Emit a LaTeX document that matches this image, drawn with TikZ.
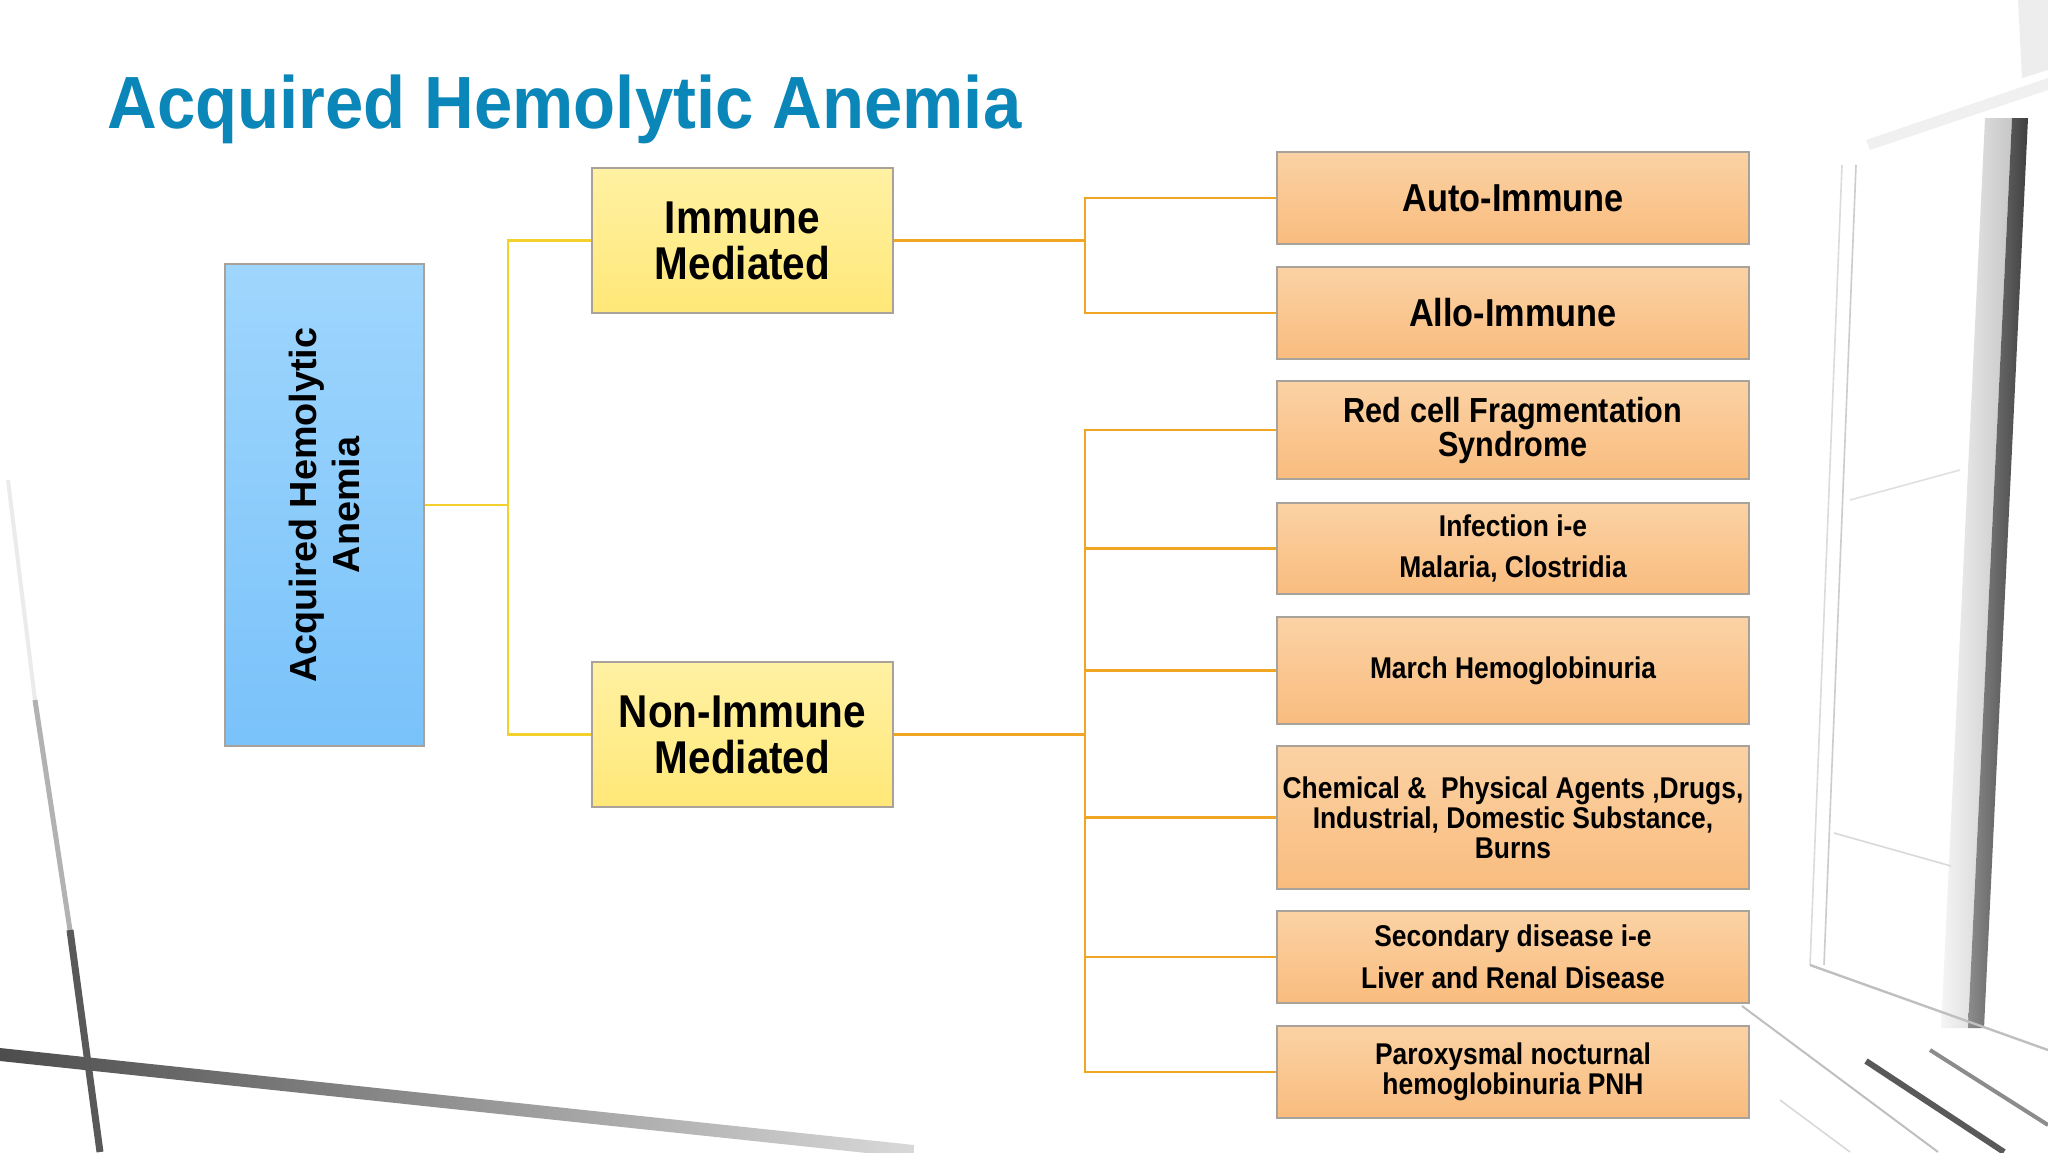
\documentclass[tikz,border=0pt]{standalone}
\usepackage{fontspec}
\setmainfont{Liberation Sans}
\newfontfamily\narrowfont{Liberation Sans}[FakeStretch=0.88]
\newfontfamily\titlefont{Liberation Sans}[FakeStretch=0.93]
\definecolor{titleblue}{HTML}{0A86B9}
\definecolor{blueTop}{HTML}{9FD6FD}
\definecolor{blueBot}{HTML}{79C2FA}
\definecolor{yelTop}{HTML}{FFF1A3}
\definecolor{yelBot}{HTML}{FFE878}
\definecolor{orTop}{HTML}{FBD2A4}
\definecolor{orBot}{HTML}{F9BC7E}
\definecolor{lineY}{HTML}{F2D12C}
\definecolor{lineO}{HTML}{F0A623}
\definecolor{boxEdge}{HTML}{A8A29A}
\tikzset{
  basebox/.style={draw=boxEdge, line width=0.8pt, inner sep=2pt, align=center},
  obox/.style={basebox, top color=orTop, bottom color=orBot, minimum width=236pt},
  ybox/.style={basebox, top color=yelTop, bottom color=yelBot, minimum width=150.5pt, minimum height=72.5pt,
    font=\narrowfont\bfseries\fontsize{23}{23}\selectfont},
  bbox/.style={basebox, top color=blueTop, bottom color=blueBot, minimum width=241pt, minimum height=99.5pt},
  big/.style={font=\narrowfont\bfseries\fontsize{19.5}{23}\selectfont},
  mid/.style={font=\narrowfont\bfseries\fontsize{17.4}{17}\selectfont},
  small/.style={font=\narrowfont\bfseries\fontsize{15}{15}\selectfont},
  smallwide/.style={font=\narrowfont\bfseries\fontsize{15}{20.75}\selectfont},
  linkY/.style={draw=lineY, line width=1.1pt},
  linkO/.style={draw=lineO, line width=1.2pt},
}
\begin{document}
\begin{tikzpicture}[x=0.5pt,y=-0.5pt]
\useasboundingbox (0,0) rectangle (2048,1152);
\fill[white] (0,0) rectangle (2048,1152);

% ---- background decoration (window frames) ----
\draw[line width=2pt, black!8] (8,480) -- (35,700);
\draw[line width=2.5pt, black!30] (35,700) -- (70,930);
\draw[line width=3.5pt, black!65] (70,930) -- (100,1152);
\shade[left color=black!70, right color=black!15] (0,1048) -- (914,1145) -- (914,1158) -- (0,1061) -- cycle;

\shade[left color=black!4, right color=black!22] (1985,118) -- (2012,118) -- (1968,1028) -- (1941,1028) -- cycle;
\shade[left color=black!45, right color=black!75] (2012,118) -- (2028,118) -- (1984,1028) -- (1968,1028) -- cycle;
\fill[black!7] (2018,0) -- (2048,0) -- (2048,70) -- (2022,78) -- cycle;
\fill[black!6] (1866,140) -- (2048,78) -- (2048,90) -- (1870,150) -- cycle;
\draw[line width=0.8pt, black!14] (1842,165) -- (1810,965);
\draw[line width=0.8pt, black!20] (1856,165) -- (1824,965);
\draw[line width=0.8pt, black!15] (1834,833) -- (1951,866);
\draw[line width=0.8pt, black!12] (1850,500) -- (1960,470);
\draw[line width=1.2pt, black!25] (1810,965) -- (2048,1050);
\draw[line width=1pt, black!25] (1742,1006) -- (1938,1152);
\draw[line width=3pt, black!65] (1866,1061) -- (2004,1152);
\draw[line width=2pt, black!45] (1930,1050) -- (2048,1125);
\draw[line width=0.8pt, black!15] (1780,1100) -- (1850,1152);

% ---- title ----
\node[anchor=base west, inner sep=0, text=titleblue, font=\titlefont\bfseries\fontsize{37}{40}\selectfont]
  (title) at (107,128) {Acquired Hemolytic Anemia};

% ---- boxes ----
\node[bbox, rotate=90, font=\bfseries\fontsize{18.9}{21.5}\selectfont] (root) at (324.5,505)
  {Acquired Hemolytic\\Anemia};
\node[ybox] (imm) at (742.5,240.5) {Immune\\Mediated};
\node[ybox] (non) at (742.5,734.5) {Non-Immune\\Mediated};

\node[obox, big, minimum height=46pt] (auto) at (1513,198) {Auto-Immune};
\node[obox, big, minimum height=46pt] (allo) at (1513,313) {Allo-Immune};
\node[obox, mid, minimum height=49pt] (red) at (1513,430) {Red cell Fragmentation\\Syndrome};
\node[obox, smallwide, minimum height=45.5pt] (inf) at (1513,548.5) {Infection i-e\\Malaria, Clostridia};
\node[obox, small, minimum height=53.5pt] (march) at (1513,670.5) {March Hemoglobinuria};
\node[obox, small, minimum height=71.5pt, inner sep=0pt] (chem) at (1513,817.5)
  {Chemical \&\ \ Physical Agents ,Drugs,\\Industrial, Domestic Substance,\\Burns};
\node[obox, smallwide, minimum height=46pt] (sec) at (1513,957) {Secondary disease i-e\\Liver and Renal Disease};
\node[obox, small, minimum height=46pt] (pnh) at (1513,1072) {Paroxysmal nocturnal\\hemoglobinuria PNH};

% ---- connectors ----
\coordinate (jL) at (508,505);
\coordinate (jI) at (1085,240.5);
\coordinate (jN) at (1085,734.5);
\draw[linkY] (root.south) -- (jL);
\draw[linkY] (jL) |- (imm.west);
\draw[linkY] (jL) |- (non.west);
\draw[linkO] (imm.east) -- (jI);
\draw[linkO] (jI) |- (auto.west);
\draw[linkO] (jI) |- (allo.west);
\draw[linkO] (non.east) -- (jN);
\draw[linkO] (jN) |- (red.west);
\draw[linkO] (jN) |- (inf.west);
\draw[linkO] (jN) |- (march.west);
\draw[linkO] (jN) |- (chem.west);
\draw[linkO] (jN) |- (sec.west);
\draw[linkO] (jN) |- (pnh.west);
\end{tikzpicture}
\end{document}
